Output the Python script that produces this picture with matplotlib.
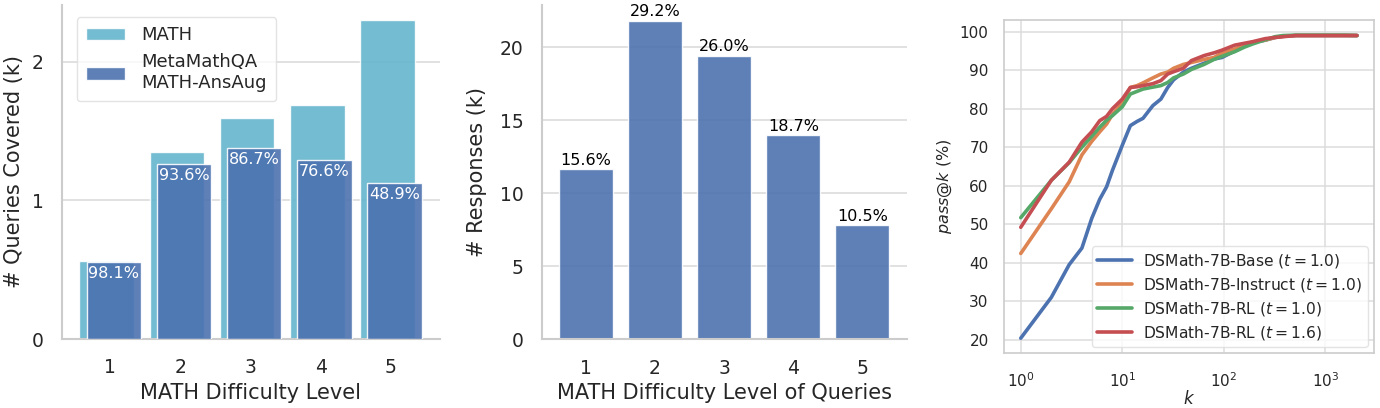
import numpy as np
import matplotlib
matplotlib.use("Agg")
import matplotlib.pyplot as plt
import seaborn as sns

sns.set_theme(style="whitegrid")
plt.rcParams['font.family'] = ['DejaVu Sans']

# ---------------- data ----------------
levels = [1, 2, 3, 4, 5]
math_counts = [0.566, 1.348, 1.592, 1.690, 2.304]          # k queries in MATH
metamath_counts = [0.555, 1.262, 1.380, 1.294, 1.127]      # k queries covered
coverage_labels = ["98.1%", "93.6%", "86.7%", "76.6%", "48.9%"]

responses = [11.65, 21.81, 19.42, 13.97, 7.84]             # k responses
response_labels = ["15.6%", "29.2%", "26.0%", "18.7%", "10.5%"]

k_vals = [1, 2, 3, 4, 5, 6, 7, 8, 10, 12, 14, 16, 20, 24, 28, 32, 40, 48, 64,
          80, 96, 128, 160, 192, 256, 320, 384, 512, 768, 1024, 1536, 2048]
base_t10 = [20.4, 31.0, 39.5, 43.8, 51.5, 56.5, 59.7, 64.0, 70.5, 75.6, 76.7,
            77.5, 80.8, 82.5, 85.5, 87.5, 89.5, 90.5, 91.8, 92.9, 93.3, 95.0,
            96.3, 97.2, 97.8, 98.5, 98.8, 99.0, 99.0, 99.0, 99.0, 99.0]
instruct_t10 = [42.4, 54.0, 61.0, 68.0, 71.5, 74.0, 76.0, 78.5, 81.5, 85.5, 86.0,
                86.7, 88.0, 89.0, 89.5, 90.5, 91.5, 92.0, 92.8, 93.3, 94.5, 95.5,
                96.5, 97.3, 97.8, 98.5, 98.8, 99.0, 99.0, 99.0, 99.0, 99.0]
rl_t10 = [51.7, 61.4, 66.0, 70.0, 72.8, 75.2, 77.0, 78.2, 80.5, 83.8, 84.5,
          85.1, 85.6, 86.0, 86.8, 88.0, 89.0, 90.2, 91.5, 92.8, 93.6, 94.8,
          96.0, 96.8, 97.9, 98.7, 99.0, 99.1, 99.1, 99.1, 99.1, 99.0]
rl_t16 = [49.2, 61.4, 66.1, 71.3, 74.0, 76.9, 78.0, 80.0, 82.5, 85.5, 85.7,
          86.0, 86.5, 87.3, 89.0, 89.6, 90.5, 92.5, 93.8, 94.5, 95.2, 96.5,
          97.0, 97.4, 98.2, 98.5, 98.7, 99.0, 99.0, 99.0, 99.0, 99.0]
series_names = ["DSMath-7B-Base ($t=1.0$)", "DSMath-7B-Instruct ($t=1.0$)",
                "DSMath-7B-RL ($t=1.0$)", "DSMath-7B-RL ($t=1.6$)"]

deep = sns.color_palette("deep")
c_blue, c_orange, c_green, c_red = deep[0], deep[1], deep[2], deep[3]
c_light = deep[9]

fig = plt.figure(figsize=(13.8, 4.08), dpi=100)

spine_col = "#cccccc"
grid_col = "#dcdcdc"

# ---------------- panel 1 ----------------
ax1 = fig.add_axes([0.0449, 0.169, 0.2739, 0.819])
x = np.array(levels, dtype=float)
ax1.bar(x - 0.05, math_counts, width=0.78, color=c_light, alpha=0.9,
        edgecolor="white", linewidth=1, label="MATH", zorder=2)
ax1.bar(x + 0.05, metamath_counts, width=0.78, color=c_blue, alpha=0.9,
        edgecolor="white", linewidth=1, label="MetaMathQA\nMATH-AnsAug", zorder=3)
for xi, h, s in zip(x, metamath_counts, coverage_labels):
    ax1.annotate(s, (xi + 0.05, h), xytext=(0, -3), textcoords="offset points",
                 ha="center", va="top", color="white", fontsize=11.5, zorder=4)
ax1.set_xlim(0.31, 5.70)
ax1.set_ylim(0, 2.41)
ax1.set_xticks(levels)
ax1.set_yticks([0, 1, 2])
ax1.grid(axis="x", visible=False)
ax1.grid(axis="y", color=grid_col, linewidth=1.2)
ax1.set_axisbelow(True)
ax1.set_xlabel("MATH Difficulty Level", fontsize=15, labelpad=4)
ax1.set_ylabel("# Queries Covered (k)", fontsize=15, labelpad=6)
ax1.tick_params(axis="x", labelsize=13.5, pad=8)
ax1.tick_params(axis="y", labelsize=13.5, pad=7)
for side in ["top", "right"]:
    ax1.spines[side].set_visible(False)
for side in ["left", "bottom"]:
    ax1.spines[side].set_color(spine_col)
    ax1.spines[side].set_linewidth(1.5)
leg1 = ax1.legend(loc="upper left", bbox_to_anchor=(0.015, 0.99), fontsize=13,
                  frameon=True, handlelength=2.2, labelspacing=0.5,
                  borderpad=0.5, handletextpad=0.9)
leg1.get_frame().set_edgecolor("#dddddd")

# ---------------- panel 2 ----------------
ax2 = fig.add_axes([0.3925, 0.168, 0.2645, 0.820])
ax2.bar(x, responses, width=0.78, color=c_blue, alpha=0.9,
        edgecolor="white", linewidth=1, zorder=2)
for xi, h, s in zip(x, responses, response_labels):
    ax2.annotate(s, (xi, h), xytext=(0, 1), textcoords="offset points",
                 ha="center", va="bottom", color="black", fontsize=11.5)
ax2.set_xlim(0.36, 5.64)
ax2.set_ylim(0, 22.9)
ax2.set_xticks(levels)
ax2.set_yticks([0, 5, 10, 15, 20])
ax2.grid(axis="x", visible=False)
ax2.grid(axis="y", color=grid_col, linewidth=1.2)
ax2.set_axisbelow(True)
ax2.set_xlabel("MATH Difficulty Level of Queries", fontsize=15, labelpad=4)
ax2.set_ylabel("# Responses (k)", fontsize=15, labelpad=9)
ax2.tick_params(axis="x", labelsize=13.5, pad=8)
ax2.tick_params(axis="y", labelsize=13.5, pad=7)
for side in ["top", "right"]:
    ax2.spines[side].set_visible(False)
for side in ["left", "bottom"]:
    ax2.spines[side].set_color(spine_col)
    ax2.spines[side].set_linewidth(1.5)

# ---------------- panel 3 ----------------
ax3 = fig.add_axes([0.7275, 0.134, 0.268, 0.817])
for ys, col, name in zip([base_t10, instruct_t10, rl_t10, rl_t16],
                         [c_blue, c_orange, c_green, c_red], series_names):
    ax3.plot(k_vals, ys, color=col, linewidth=2.6, label=name)
ax3.set_xscale("log")
ax3.minorticks_off()
ax3.set_yticks([20, 30, 40, 50, 60, 70, 80, 90, 100])
ax3.grid(True, color=grid_col, linewidth=1.1)
for side in ax3.spines.values():
    side.set_color(spine_col)
    side.set_linewidth(1.2)
ax3.tick_params(axis="y", labelsize=11, pad=5)
ax3.tick_params(axis="x", labelsize=11, pad=7)
ax3.set_xlabel("$k$", fontsize=12, labelpad=0)
ax3.set_ylabel("$pass@k$ (%)", fontsize=11.5)
leg3 = ax3.legend(loc="lower right", fontsize=11.2, frameon=True,
                  handlelength=2.25, handletextpad=0.7, borderpad=0.35,
                  labelspacing=0.38, borderaxespad=0.4)
leg3.get_frame().set_edgecolor("#dddddd")

fig.savefig("out.png", dpi=100)
